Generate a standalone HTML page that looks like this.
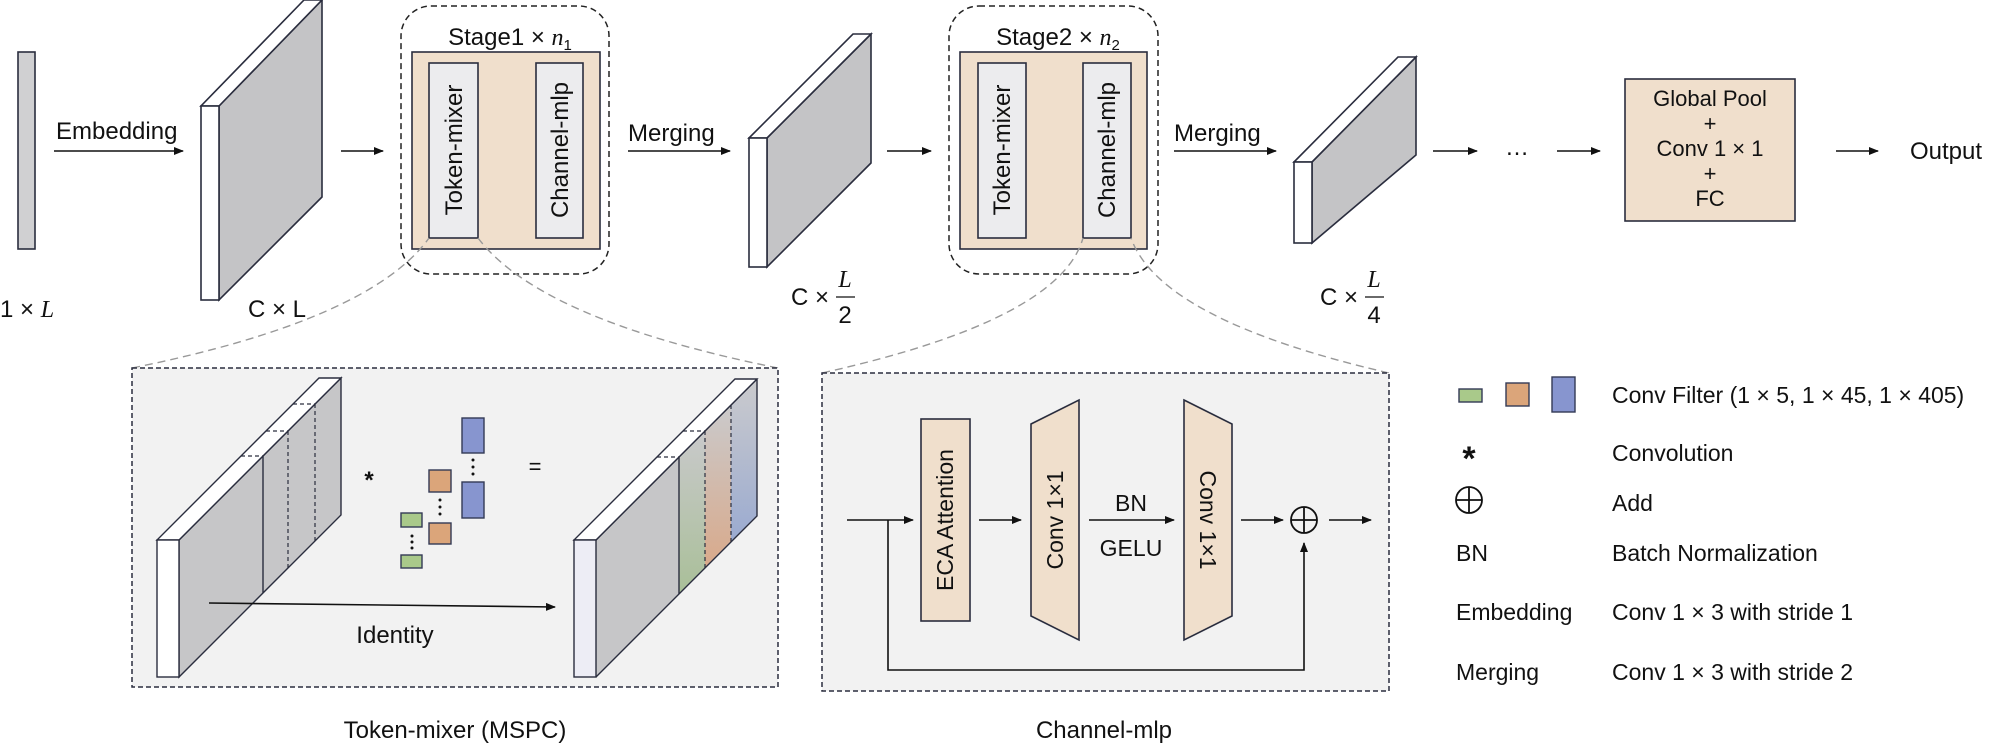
<!DOCTYPE html>
<html><head><meta charset="utf-8"><style>
html,body{margin:0;padding:0;background:#fff}
svg{display:block}
text{font-family:"Liberation Sans",sans-serif;fill:#111}
.m{font-family:"Liberation Serif",serif;font-style:italic}
</style></head><body>
<svg width="2000" height="745" viewBox="0 0 2000 745" xmlns="http://www.w3.org/2000/svg">
<defs>
<marker id="ah" markerWidth="10" markerHeight="8" refX="9" refY="4" orient="auto" markerUnits="userSpaceOnUse">
<path d="M0,0 L10,4 L0,8 z" fill="#111"/></marker>
</defs>
<g stroke="#111" stroke-width="1.6" fill="none">
<line x1="54" y1="151" x2="183" y2="151" marker-end="url(#ah)"/>
<line x1="341" y1="151" x2="383" y2="151" marker-end="url(#ah)"/>
<line x1="491" y1="151" x2="520" y2="151" marker-end="url(#ah)"/>
<line x1="628" y1="151" x2="730" y2="151" marker-end="url(#ah)"/>
<line x1="887" y1="151" x2="931" y2="151" marker-end="url(#ah)"/>
<line x1="1041" y1="151" x2="1068" y2="151" marker-end="url(#ah)"/>
<line x1="1174" y1="151" x2="1276" y2="151" marker-end="url(#ah)"/>
<line x1="1433" y1="151" x2="1477" y2="151" marker-end="url(#ah)"/>
<line x1="1557" y1="151" x2="1600" y2="151" marker-end="url(#ah)"/>
<line x1="1836" y1="151" x2="1878" y2="151" marker-end="url(#ah)"/>
</g>
<rect x="18" y="52" width="17" height="197" fill="#d0d0d2" stroke="#2a2d3e" stroke-width="1.6"/>
<g stroke="#2a2d3e" stroke-width="1.6">
<polygon points="219,106 322,0 322,197 219,300" fill="#c4c4c6"/>
<polygon points="201,106 219,106 322,0 304,0" fill="#fff"/>
<rect x="201" y="106" width="18" height="194" fill="#fff"/>
<polygon points="767,138 871,34 871,163 767,267" fill="#c4c4c6"/>
<polygon points="749,138 767,138 871,34 853,34" fill="#fff"/>
<rect x="749" y="138" width="18" height="129" fill="#fff"/>
<polygon points="1312,162 1416,57 1416,155 1312,243" fill="#c4c4c6"/>
<polygon points="1294,162 1312,162 1416,57 1398,57" fill="#fff"/>
<rect x="1294" y="162" width="18" height="81" fill="#fff"/>
</g>
<rect x="401" y="6" width="208" height="268" rx="30" fill="none" stroke="#222" stroke-width="1.5" stroke-dasharray="6,4"/>
<rect x="412" y="52" width="188" height="197" fill="#f0dfcc" stroke="#2a2d3e" stroke-width="1.6"/>
<rect x="429" y="63" width="49" height="175" fill="#ececee" stroke="#2a2d3e" stroke-width="1.6"/>
<rect x="536" y="63" width="47" height="175" fill="#ececee" stroke="#2a2d3e" stroke-width="1.6"/>
<rect x="949" y="6" width="209" height="268" rx="30" fill="none" stroke="#222" stroke-width="1.5" stroke-dasharray="6,4"/>
<rect x="960" y="52" width="187" height="197" fill="#f0dfcc" stroke="#2a2d3e" stroke-width="1.6"/>
<rect x="978" y="63" width="48" height="175" fill="#ececee" stroke="#2a2d3e" stroke-width="1.6"/>
<rect x="1083" y="63" width="48" height="175" fill="#ececee" stroke="#2a2d3e" stroke-width="1.6"/>
<g fill="#111" font-size="24">
<text x="510" y="45" text-anchor="middle">Stage1 × <tspan class="m">n</tspan><tspan font-size="15" dy="5">1</tspan></text>
<text x="1058" y="45" text-anchor="middle">Stage2 × <tspan class="m">n</tspan><tspan font-size="15" dy="5">2</tspan></text>
<text transform="translate(462,150) rotate(-90)" text-anchor="middle">Token-mixer</text>
<text transform="translate(568,150) rotate(-90)" text-anchor="middle">Channel-mlp</text>
<text transform="translate(1010,150) rotate(-90)" text-anchor="middle">Token-mixer</text>
<text transform="translate(1115,150) rotate(-90)" text-anchor="middle">Channel-mlp</text>
<text x="56" y="139">Embedding</text>
<text x="628" y="141">Merging</text>
<text x="1174" y="141">Merging</text>
<text x="0" y="317">1 × <tspan class="m">L</tspan></text>
<text x="248" y="317">C × L</text>
<text x="791" y="305">C ×</text>
<text x="845" y="287" class="m" text-anchor="middle">L</text>
<text x="845" y="323" text-anchor="middle">2</text>
<text x="1320" y="305">C ×</text>
<text x="1374" y="287" class="m" text-anchor="middle">L</text>
<text x="1374" y="323" text-anchor="middle">4</text>
<text x="1517" y="155" text-anchor="middle">…</text>
<text x="1946" y="159" text-anchor="middle">Output</text>
</g>
<line x1="836" y1="297" x2="855" y2="297" stroke="#111" stroke-width="1.3"/>
<line x1="1365" y1="297" x2="1384" y2="297" stroke="#111" stroke-width="1.3"/>
<rect x="1625" y="79" width="170" height="142" fill="#f0dfcc" stroke="#2a2d3e" stroke-width="1.6"/>
<g font-size="22" text-anchor="middle">
<text x="1710" y="106">Global Pool</text>
<text x="1710" y="131">+</text>
<text x="1710" y="156">Conv 1 × 1</text>
<text x="1710" y="181">+</text>
<text x="1710" y="206">FC</text>
</g>
<g fill="none" stroke="#999" stroke-width="1.4" stroke-dasharray="8,5">
<path d="M132,368 Q370,320 429,238"/>
<path d="M778,368 Q540,320 478,238"/>
<path d="M822,373 Q1060,320 1083,238"/>
<path d="M1389,373 Q1160,320 1131,238"/>
</g>
<rect x="132" y="368" width="646" height="319" fill="#f2f2f2" stroke="#2a2d3e" stroke-width="1.5" stroke-dasharray="5,3"/>
<g stroke="#2a2d3e" stroke-width="1.4">
<polygon points="179,540 341,378 341,515 179,677" fill="#c6c6c8"/>
<polygon points="157,540 179,540 341,378 319,378" fill="#fff"/>
<rect x="157" y="540" width="22" height="137" fill="#fff"/>
<line x1="263" y1="456" x2="263" y2="593"/>
</g>
<g stroke="#2a2d3e" stroke-width="1.2" stroke-dasharray="4,3" fill="none">
<line x1="288" y1="431" x2="288" y2="568"/>
<line x1="315" y1="404" x2="315" y2="541"/>
<line x1="241" y1="456" x2="263" y2="456"/>
<line x1="266" y1="431" x2="288" y2="431"/>
<line x1="293" y1="404" x2="315" y2="404"/>
</g>
<defs>
<linearGradient id="gg" x1="0" y1="1" x2="0" y2="0"><stop offset="0" stop-color="#a9bf98"/><stop offset="1" stop-color="#c9c9cb"/></linearGradient>
<linearGradient id="go" x1="0" y1="1" x2="0" y2="0"><stop offset="0" stop-color="#d9a98a"/><stop offset="1" stop-color="#cacacc"/></linearGradient>
<linearGradient id="gb" x1="0" y1="1" x2="0" y2="0"><stop offset="0" stop-color="#9aaad0"/><stop offset="1" stop-color="#cbcbcd"/></linearGradient>
</defs>
<polygon points="596,540 679,457 679,594 596,677" fill="#c6c6c8"/>
<polygon points="679,457 705,431 705,568 679,594" fill="url(#gg)"/>
<polygon points="705,431 731,405 731,542 705,568" fill="url(#go)"/>
<polygon points="731,405 757,379 757,516 731,542" fill="url(#gb)"/>
<g stroke="#2a2d3e" stroke-width="1.4" fill="none">
<polyline points="596,540 757,379"/>
<polyline points="596,677 757,516 757,379"/>
<line x1="679" y1="457" x2="679" y2="594"/>
<polygon points="574,540 596,540 757,379 735,379" fill="#fff"/>
<rect x="574" y="540" width="22" height="137" fill="#ededf5"/>
</g>
<g stroke="#2a2d3e" stroke-width="1.2" stroke-dasharray="4,3">
<line x1="705" y1="431" x2="705" y2="568"/>
<line x1="731" y1="405" x2="731" y2="542"/>
<line x1="657" y1="457" x2="679" y2="457"/>
<line x1="683" y1="431" x2="705" y2="431"/>
</g>
<g stroke="#333a55" stroke-width="1.4">
<rect x="401" y="513" width="21" height="14" fill="#a9c98a"/>
<rect x="401" y="555" width="21" height="13" fill="#a9c98a"/>
<rect x="429" y="470" width="22" height="22" fill="#dba57a"/>
<rect x="429" y="523" width="22" height="21" fill="#dba57a"/>
<rect x="462" y="418" width="22" height="35" fill="#8795cf"/>
<rect x="462" y="482" width="22" height="36" fill="#8795cf"/>
</g>
<g fill="#111">
<circle cx="412" cy="536" r="1.5"/><circle cx="412" cy="542" r="1.5"/><circle cx="412" cy="548" r="1.5"/>
<circle cx="440" cy="500" r="1.5"/><circle cx="440" cy="507" r="1.5"/><circle cx="440" cy="514" r="1.5"/>
<circle cx="473" cy="460" r="1.5"/><circle cx="473" cy="467" r="1.5"/><circle cx="473" cy="474" r="1.5"/>
</g>
<text x="369" y="488" text-anchor="middle" font-size="24" font-weight="bold">*</text>
<text x="535" y="474" text-anchor="middle" font-size="22">=</text>
<line x1="209" y1="603" x2="555" y2="607" stroke="#111" stroke-width="1.6" marker-end="url(#ah)"/>
<text x="395" y="643" text-anchor="middle" font-size="24">Identity</text>
<text x="455" y="738" text-anchor="middle" font-size="24">Token-mixer  (MSPC)</text>
<rect x="822" y="373" width="567" height="318" fill="#f2f2f2" stroke="#2a2d3e" stroke-width="1.5" stroke-dasharray="5,3"/>
<rect x="921" y="419" width="49" height="202" fill="#f0dfcc" stroke="#2a2d3e" stroke-width="1.6"/>
<polygon points="1031,424 1079,400 1079,640 1031,616" fill="#f0dfcc" stroke="#2a2d3e" stroke-width="1.6"/>
<polygon points="1184,400 1232,424 1232,616 1184,640" fill="#f0dfcc" stroke="#2a2d3e" stroke-width="1.6"/>
<g font-size="23" text-anchor="middle">
<text transform="translate(953,520) rotate(-90)">ECA Attention</text>
<text transform="translate(1063,520) rotate(-90)">Conv  1×1</text>
<text transform="translate(1200,520) rotate(90)">Conv  1×1</text>
<text x="1131" y="511">BN</text>
<text x="1131" y="556">GELU</text>
</g>
<g stroke="#111" stroke-width="1.6" fill="none">
<line x1="847" y1="520" x2="913" y2="520" marker-end="url(#ah)"/>
<polyline points="888,520 888,670 1304,670 1304,543" marker-end="url(#ah)"/>
<line x1="979" y1="520" x2="1021" y2="520" marker-end="url(#ah)"/>
<line x1="1089" y1="520" x2="1174" y2="520" marker-end="url(#ah)"/>
<line x1="1241" y1="520" x2="1283" y2="520" marker-end="url(#ah)"/>
<line x1="1329" y1="520" x2="1371" y2="520" marker-end="url(#ah)"/>
<circle cx="1304" cy="520" r="13" stroke-width="1.8"/>
<line x1="1291" y1="520" x2="1317" y2="520" stroke-width="1.8"/>
<line x1="1304" y1="507" x2="1304" y2="533" stroke-width="1.8"/>
</g>
<text x="1104" y="738" text-anchor="middle" font-size="24">Channel-mlp</text>
<g stroke="#333a55" stroke-width="1.4">
<rect x="1459" y="389" width="23" height="13" fill="#a9c98a"/>
<rect x="1506" y="383" width="23" height="23" fill="#dba57a"/>
<rect x="1552" y="377" width="23" height="35" fill="#8795cf"/>
</g>
<g stroke="#111" stroke-width="1.8" fill="none">
<circle cx="1469" cy="500" r="13"/>
<line x1="1456" y1="500" x2="1482" y2="500"/><line x1="1469" y1="487" x2="1469" y2="513"/>
</g>
<g font-size="23">
<text x="1469" y="470" text-anchor="middle" font-size="34" font-weight="bold">*</text>
<text x="1612" y="403">Conv Filter (1 × 5, 1 × 45, 1 × 405)</text>
<text x="1612" y="461">Convolution</text>
<text x="1612" y="511">Add</text>
<text x="1456" y="561">BN</text>
<text x="1612" y="561">Batch Normalization</text>
<text x="1456" y="620">Embedding</text>
<text x="1612" y="620">Conv 1 × 3 with stride 1</text>
<text x="1456" y="680">Merging</text>
<text x="1612" y="680">Conv 1 × 3 with stride 2</text>
</g>
</svg>
</body></html>
